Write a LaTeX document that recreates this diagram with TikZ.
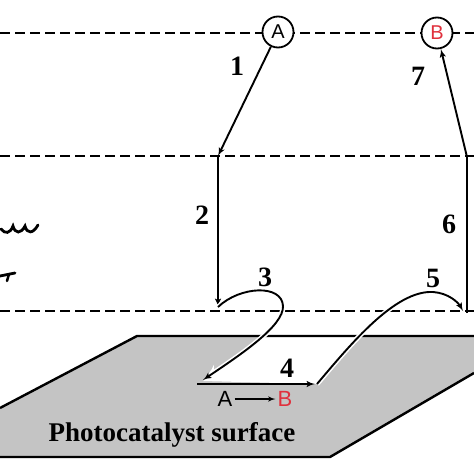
\documentclass[tikz,border=0pt]{standalone}
\usepackage{fontspec}
\setmainfont{Liberation Serif}
\newfontfamily\labelsans{Liberation Sans}
\usetikzlibrary{arrows}
\definecolor{surfgray}{HTML}{C4C4C4}
\definecolor{myred}{HTML}{E0303C}
\tikzstyle{species} = [circle, draw, fill=white, line width=1.8pt, minimum size=31pt, inner sep=0pt, font=\labelsans\fontsize{20}{20}\selectfont]
\tikzstyle{num} = [font=\bfseries\fontsize{28}{28}\selectfont, inner sep=0pt]
\tikzstyle{level} = [draw, dash pattern=on 10pt off 5pt, line width=2.2pt]
\tikzstyle{line} = [draw, -latex', line width=1.9pt]

\begin{document}
\begin{tikzpicture}[x=1pt, y=-1pt]
  \useasboundingbox (0,0) rectangle (474,474);

  % surface
  \fill[surfgray] (137,336) -- (474,336) -- (474,373) -- (330,457) -- (0,457) -- (0,408) -- cycle;
  \begin{scope}
    \clip (137,336) -- (474,336) -- (474,373) -- (330,457) -- (0,457) -- (0,408) -- cycle;
    \fill[white] (283,306) .. controls (284,326) and (240,355) .. (203,381) -- (317,384)
      .. controls (350,345) and (395,290) .. (433,292) -- cycle;
  \end{scope}
  \draw[line width=2.4pt] (474,336) -- (137,336) -- (0,408);
  \draw[line width=2.4pt] (474,373) -- (330,457) -- (0,457);

  % levels
  \draw[level] (0,33) -- (474,33);
  \draw[level] (0,156) -- (474,156);
  \draw[level] (0,311) -- (474,311);

  % Nodes
  \node [species] (A) at (278,32) {A};
  \node [species, text=myred] (B) at (437,33) {B};
  \coordinate (j1) at (218,156);
  \coordinate (j2) at (218,307);
  \coordinate (s1) at (203,380);
  \coordinate (s0) at (197,384);
  \coordinate (s2) at (315,384);
  \coordinate (s3) at (317,384);
  \coordinate (j3) at (463,311);
  \coordinate (j4) at (467,313);
  \coordinate (j5) at (467,157);

  \node [num] (n1) at (237,66) {1};
  \node [num] (n2) at (202,215) {2};
  \node [num] (n3) at (265,277) {3};
  \node [num] (n4) at (287,368) {4};
  \node [num] (n5) at (433,278) {5};
  \node [num] (n6) at (449,224) {6};
  \node [num] (n7) at (418,76) {7};

  \node [font=\bfseries\fontsize{27}{27}\selectfont] (surf) at (172,435) {Photocatalyst surface};
  \node [font=\labelsans\fontsize{22}{22}\selectfont, inner sep=2pt] (pa) at (225,399) {A};
  \node [font=\labelsans\fontsize{22}{22}\selectfont, inner sep=2pt, text=myred] (pb) at (285,399) {B};

  % arrows
  \draw[line] (A) -- (j1);
  \draw[line] (j1) -- (j2);
  \draw[line, preaction={draw, white, line width=5pt}] (j2) .. controls (240,286) and (282,284) .. (283,306)
    .. controls (284,326) and (240,355) .. (s1);
  \draw[line] (s0) -- (s2);
  \draw[line, preaction={draw, white, line width=5pt}] (s3) .. controls (350,345) and (395,290) .. (433,292)
    .. controls (448,293) and (458,302) .. (j3);
  \draw[line width=1.9pt] (j4) -- (j5);
  \draw[line] (j5) -- (B);
  \draw[-latex', line width=1.5pt] (pa) -- (pb);

  % cut-off marks on the left
  \draw[line width=2.8pt, line cap=round] (1,229) .. controls (5,234) and (10,234) .. (13,226)
    .. controls (15,234) and (21,234) .. (25,226) .. controls (27,234) and (33,234) .. (38,225);
  \draw[line width=2.8pt, line cap=round] (0,276) -- (15,273);
  \draw[line width=2.5pt, line cap=round] (9,274) -- (7,281);
\end{tikzpicture}
\end{document}
